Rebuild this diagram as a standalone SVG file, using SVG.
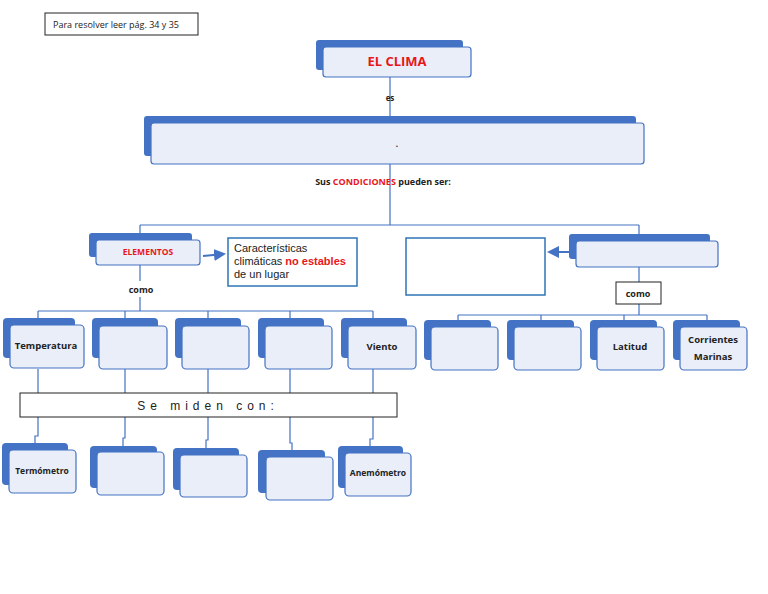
<svg xmlns="http://www.w3.org/2000/svg" width="768" height="594" viewBox="0 0 768 594">
<style>
.bk{fill:#4472C4;}
.fr{fill:#E9EEF8;stroke:#4472C4;stroke-width:1.2;}
.ln{stroke:#4472C4;stroke-width:1.2;fill:none;}
.t{font-family:"Open Sans","Liberation Sans",sans-serif;font-weight:bold;fill:#222;text-anchor:middle;}
.r{fill:#E8161B;}
</style>
<defs><marker id="ah" markerWidth="6" markerHeight="6" refX="5" refY="3" orient="auto"><path d="M0,0 L6,3 L0,6 z" fill="#4472C4"/></marker></defs>
<rect width="768" height="594" fill="#fff"/>
<g id="connectors">
<path class="ln" d="M390,77V118M390,164V225M140,225H639M140,225V233M639,225V234M140,265V281M140,297V311M38,311H373M38,311V318M125,311V318M208,311V318M290,311V318M373,311V318M38,369V393M125,369V393M208,369V393M290,369V393M373,369V393M38,417V436H35V443M125,417V438H123V446M208,417V440H206V448M290,417V443H292V450M373,417V439H370V446M639,267V282M639,304V315M458,315H707M458,315V321M541,315V321M624,315V321M707,315V321"/>
<line x1="203" y1="256" x2="224" y2="254" stroke="#4472C4" stroke-width="2" marker-end="url(#ah)"/>
<line x1="570" y1="252" x2="549" y2="252" stroke="#4472C4" stroke-width="2" marker-end="url(#ah)"/>
</g>
<g id="note"><rect x="45" y="13" width="153" height="22" fill="#fff" stroke="#222"/><text x="53" y="28" font-family="Open Sans,Liberation Sans,sans-serif" font-size="9" fill="#222">Para resolver leer pág. 34 y 35</text></g>
<g id="clima"><rect class="bk" x="316" y="40" width="147" height="30" rx="3"/><rect class="fr" x="323" y="47" width="148" height="30" rx="3"/><text class="t r" x="397" y="66" font-family="Liberation Sans,sans-serif" font-size="13">EL  CLIMA</text></g>
<text class="t" x="390" y="101" font-size="8" font-weight="normal">es</text>
<g id="def"><rect class="bk" x="144" y="116" width="492" height="40" rx="3"/><rect class="fr" x="151" y="123" width="493" height="41" rx="3"/><text class="t" x="397" y="147" font-size="8">.</text></g>
<text class="t" x="383" y="185" font-size="9" font-weight="normal" fill="#222">Sus <tspan class="r" font-weight="bold">CONDICIONES</tspan> pueden ser:</text>
<g id="elementos"><rect class="bk" x="89" y="233" width="103" height="24" rx="3"/><rect class="fr" x="96" y="240" width="104" height="25" rx="3"/><text class="t r" x="148" y="255" font-size="8.5">ELEMENTOS</text></g>
<g id="caract"><rect x="228" y="238" width="129" height="48" fill="#fff" stroke="#2E75B6" stroke-width="1.5"/><text font-family="Liberation Sans,sans-serif" font-size="11" fill="#222"><tspan x="234" y="252">Características</tspan><tspan x="234" y="265">climáticas <tspan fill="#E8161B" font-weight="bold">no estables</tspan></tspan><tspan x="234" y="278">de un lugar</tspan></text></g>
<text class="t" x="141" y="293" font-size="9">como</text>
<g id="fact"><rect class="bk" x="569" y="234" width="141" height="25" rx="3"/><rect class="fr" x="576" y="241" width="142" height="26" rx="3"/></g>
<g id="factdef"><rect x="406" y="238" width="139" height="57" fill="#fff" stroke="#2E75B6" stroke-width="1.5"/></g>
<g id="como2"><rect x="616" y="282" width="45" height="22" fill="#fff" stroke="#222"/><text class="t" x="638" y="297" font-size="9">como</text></g>
<g id="temp"><rect class="bk" x="3" y="318" width="72" height="40" rx="4"/><rect class="fr" x="10" y="325" width="74" height="43" rx="4"/><text class="t" x="46" y="349" font-size="9.5">Temperatura</text></g>
<g id="e2"><rect class="bk" x="92" y="318" width="66" height="40" rx="4"/><rect class="fr" x="99" y="326" width="68" height="43" rx="4"/></g>
<g id="e3"><rect class="bk" x="175" y="318" width="66" height="40" rx="4"/><rect class="fr" x="182" y="326" width="67" height="43" rx="4"/></g>
<g id="e4"><rect class="bk" x="258" y="318" width="66" height="40" rx="4"/><rect class="fr" x="265" y="326" width="67" height="43" rx="4"/></g>
<g id="viento"><rect class="bk" x="341" y="318" width="66" height="40" rx="4"/><rect class="fr" x="348" y="326" width="68" height="43" rx="4"/><text class="t" x="382" y="350" font-size="9.5">Viento</text></g>
<g id="f1"><rect class="bk" x="424" y="320" width="67" height="40" rx="4"/><rect class="fr" x="431" y="327" width="67" height="43" rx="4"/></g>
<g id="f2"><rect class="bk" x="507" y="320" width="67" height="40" rx="4"/><rect class="fr" x="514" y="327" width="67" height="43" rx="4"/></g>
<g id="latitud"><rect class="bk" x="590" y="320" width="67" height="40" rx="4"/><rect class="fr" x="597" y="327" width="67" height="43" rx="4"/><text class="t" x="630" y="350" font-size="9.5">Latitud</text></g>
<g id="corrientes"><rect class="bk" x="673" y="320" width="67" height="40" rx="4"/><rect class="fr" x="680" y="327" width="67" height="43" rx="4"/><text class="t" x="713" y="343" font-size="9.5">Corrientes</text><text class="t" x="713" y="360" font-size="9.5">Marinas</text></g>
<g id="miden"><rect x="20" y="393" width="377" height="24" fill="#fff" stroke="#222"/><text x="208" y="410" font-family="Liberation Sans,sans-serif" font-size="12" fill="#222" text-anchor="middle" letter-spacing="5">Se miden con:</text></g>
<g id="termo"><rect class="bk" x="2" y="443" width="66" height="42" rx="4"/><rect class="fr" x="9" y="450" width="67" height="43" rx="4"/><text class="t" x="42" y="474" font-size="8.5">Termómetro</text></g>
<g id="m2"><rect class="bk" x="90" y="446" width="67" height="42" rx="4"/><rect class="fr" x="97" y="452" width="67" height="43" rx="4"/></g>
<g id="m3"><rect class="bk" x="173" y="448" width="66" height="42" rx="4"/><rect class="fr" x="180" y="455" width="67" height="42" rx="4"/></g>
<g id="m4"><rect class="bk" x="258" y="450" width="67" height="43" rx="4"/><rect class="fr" x="266" y="457" width="67" height="43" rx="4"/></g>
<g id="anemo"><rect class="bk" x="338" y="446" width="65" height="42" rx="4"/><rect class="fr" x="345" y="453" width="66" height="43" rx="4"/><text class="t" x="378" y="476" font-size="8.5">Anemómetro</text></g>
</svg>
